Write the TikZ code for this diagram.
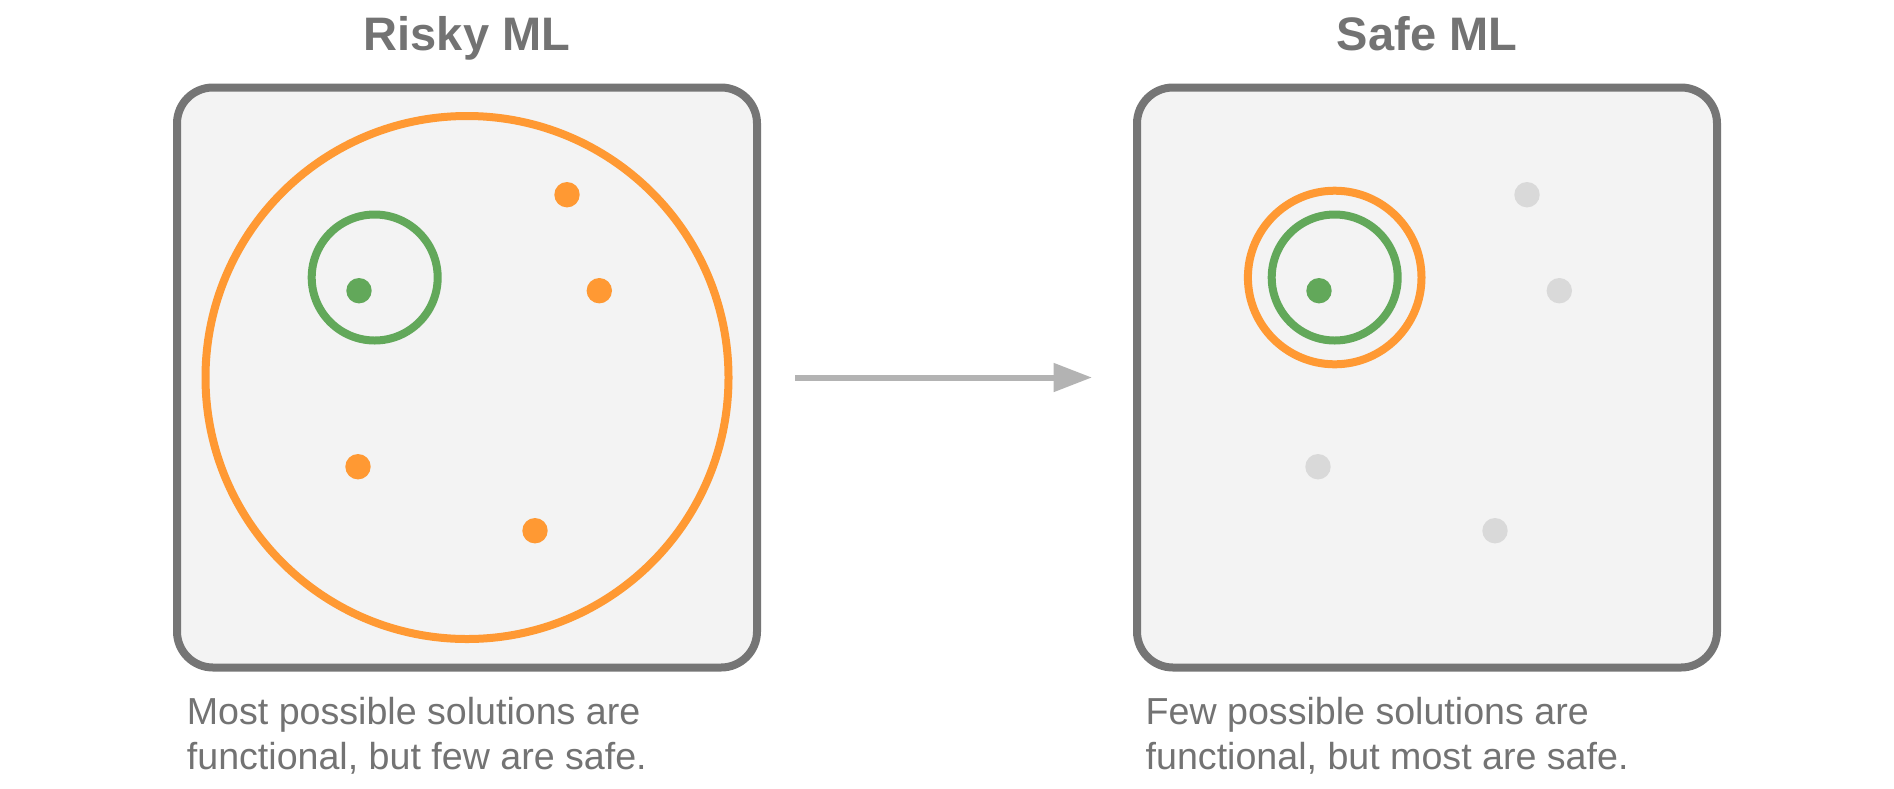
\documentclass[tikz,border=0pt]{standalone}
\usepackage{fontspec}
\setmainfont{Liberation Sans}
\usepackage{xcolor}
\usetikzlibrary{arrows.meta}
\definecolor{framegray}{HTML}{757575}
\definecolor{panelfill}{HTML}{F3F3F3}
\definecolor{solorange}{HTML}{FF9933}
\definecolor{solgreen}{HTML}{62A85A}
\definecolor{dotgray}{HTML}{D9D9D9}
\definecolor{arrowgray}{HTML}{B3B3B3}
\definecolor{textgray}{HTML}{737373}
\tikzset{
  panel/.style={draw=framegray, fill=panelfill, line width=4pt, rounded corners=18pt,
    minimum size=290pt, inner sep=0pt},
  ring/.style={draw=#1, line width=4pt},
  sol/.style={fill=#1},
  heading/.style={font=\bfseries\fontsize{23.5}{28}\selectfont, text=textgray, anchor=base},
  caption/.style={font=\fontsize{18.8}{22.5}\selectfont, text=textgray, align=left,
    anchor=north west, inner sep=0pt},
  flow/.style={draw=arrowgray, line width=3pt, -{Triangle[length=19.2pt,width=13.8pt]},
    shorten <=17pt, shorten >=20.5pt},
}

\begin{document}
\begin{tikzpicture}[x=0.5pt,y=-0.5pt]
      \fill[white] (0,0) rectangle (1894,788);
      \useasboundingbox (0,0) rectangle (1894,788);
      % risky side
      \node[heading] (riskytitle) at (467,50) {Risky ML};
      \node[panel] (risky) at (467,377.5) {};
      \begin{scope}
        \draw[ring=solorange] (467,377.5) circle (130.75pt);
        \draw[ring=solgreen] (374.7,277.5) circle (31.5pt);
        \fill[sol=solgreen] (359,290.7) circle (6.35pt);
        \foreach \x/\y in {567/194.7,599.3/290.7,358/466.7,535/530.7}
          \fill[sol=solorange] (\x,\y) circle (6.35pt);
      \end{scope}
      \node[caption] (riskytext) at (186.5,697) {Most possible solutions are\\functional, but few are safe.};
      % safe side
      \node[heading] (safetitle) at (1427,50) {Safe ML};
      \node[panel] (safe) at (1427,377.5) {};
      \begin{scope}[shift={(960,0)}]
        \draw[ring=solorange] (374.7,277.5) circle (43.4pt);
        \draw[ring=solgreen] (374.7,277.5) circle (31.5pt);
        \fill[sol=solgreen] (359,290.7) circle (6.35pt);
        \foreach \x/\y in {567/194.7,599.3/290.7,358/466.7,535/530.7}
          \fill[sol=dotgray] (\x,\y) circle (6.35pt);
      \end{scope}
      \node[caption] (safetext) at (1145.3,697) {Few possible solutions are\\functional, but most are safe.};
      \draw[flow] (risky) -- (safe);
\end{tikzpicture}
\end{document}
